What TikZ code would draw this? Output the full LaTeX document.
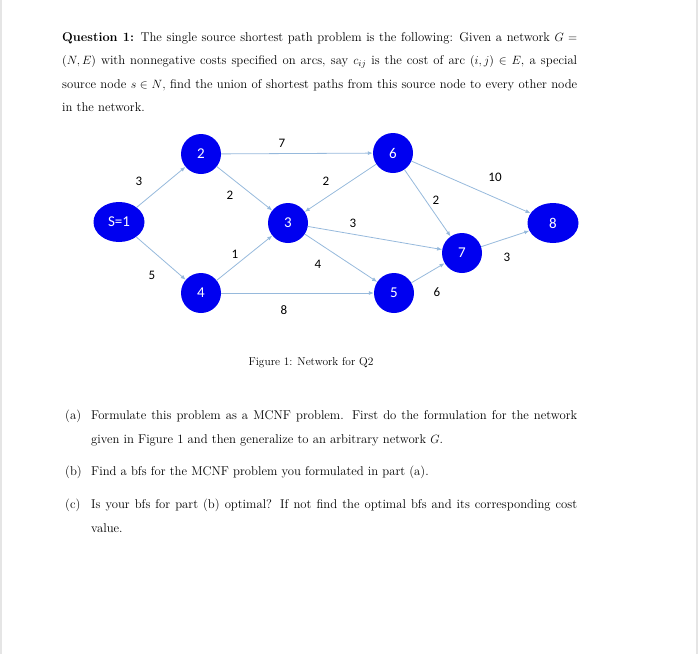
\documentclass[tikz,border=0pt]{standalone}
\usepackage{fontspec}
\newfontfamily\calibri{Carlito}
\usetikzlibrary{arrows.meta,shapes.geometric}
\definecolor{nodeblue}{RGB}{0,0,240}
\definecolor{arcblue}{RGB}{150,185,220}
\newcommand\linestrut{\rule{0pt}{10pt}}
\tikzset{
  vtx/.style={circle, fill=nodeblue, text=white, minimum size=40pt, inner sep=0pt, font=\calibri\fontsize{15}{15}\selectfont},
  vtxend/.style={ellipse, fill=nodeblue, text=white, minimum width=51pt, minimum height=40pt, inner sep=0pt, font=\calibri\fontsize{15}{15}\selectfont},
  arc/.style={draw=arcblue, line width=0.8pt, -{Latex[length=5pt,width=4pt]}},
  cost/.style={font=\calibri\fontsize{13}{13}\selectfont, inner sep=0pt},
  para/.style={anchor=north west, inner sep=0pt, align=justify, font=\fontsize{12.7}{23.3}\selectfont},
  itemlbl/.style={anchor=north west, inner sep=0pt, font=\fontsize{12.7}{23.3}\selectfont}
}
\begin{document}
\begin{tikzpicture}[x=1pt, y=-1pt]
  \useasboundingbox (0,0) rectangle (699,654);
  % page edges
  \draw[gray!20, line width=2pt] (1,0) -- (1,654);
  \draw[gray!20, line width=2pt] (697,0) -- (697,654);

  % question text
  \node[para, text width=515pt] (question) at (62,32.5) {\textbf{Question 1:} The single source shortest path problem is the following: Given a network $G =$\linebreak $(N, E)$ with nonnegative costs specified on arcs, say $c_{ij}$ is the cost of arc $(i, j) \in E$, a special\linebreak source node $s \in N$, find the union of shortest paths from this source node to every other node\linebreak in the network.};

  % network nodes
  \node[vtxend] (n1) at (119,222) {S=1};
  \node[vtx] (n2) at (201,154) {2};
  \node[vtx] (n3) at (288,223) {3};
  \node[vtx] (n4) at (201,293) {4};
  \node[vtx] (n5) at (394,293) {5};
  \node[vtx] (n6) at (393,153) {6};
  \node[vtx] (n7) at (462,253) {7};
  \node[vtxend] (n8) at (553,223) {8};

  % arcs
  \draw[arc] (n1) -- (n2);
  \draw[arc] (n1) -- (n4);
  \draw[arc] (n2) -- (n6);
  \draw[arc] (n2) -- (n3);
  \draw[arc] (n4) -- (n3);
  \draw[arc] (n6) -- (n3);
  \draw[arc] (n3) -- (n7);
  \draw[arc] (n3) -- (n5);
  \draw[arc] (n4) -- (n5);
  \draw[arc] (n6) -- (n7);
  \draw[arc] (n6) -- (n8);
  \draw[arc] (n5) -- (n7);
  \draw[arc] (n7) -- (n8);

  % arc costs
  \node[cost] (c12) at (139,181) {3};
  \node[cost] (c14) at (152,275) {5};
  \node[cost] (c26) at (282,143) {7};
  \node[cost] (c23) at (230,195) {2};
  \node[cost] (c43) at (235,254) {1};
  \node[cost] (c63) at (326,181) {2};
  \node[cost] (c37) at (353,223) {3};
  \node[cost] (c35) at (318,264) {4};
  \node[cost] (c45) at (284,310) {8};
  \node[cost] (c67) at (436,200) {2};
  \node[cost] (c68) at (495,177) {10};
  \node[cost] (c57) at (437,292) {6};
  \node[cost] (c78) at (507,257) {3};

  % caption
  \node[font=\fontsize{11.4}{14}\selectfont] (caption) at (311,363) {Figure 1: Network for Q2};

  % parts
  \node[itemlbl] (lbla) at (65,409.5) {\linestrut(a)};
  \node[para, text width=486pt] (parta) at (91,409.5) {\linestrut Formulate this problem as a MCNF problem. First do the formulation for the network\linebreak given in Figure 1 and then generalize to an arbitrary network $G$.};
  \node[itemlbl] (lblb) at (65,465.5) {\linestrut(b)};
  \node[para, text width=486pt] (partb) at (91,465.5) {\linestrut Find a bfs for the MCNF problem you formulated in part (a).};
  \node[itemlbl] (lblc) at (65,498.5) {\linestrut(c)};
  \node[para, text width=486pt] (partc) at (91,498.5) {\linestrut Is your bfs for part (b) optimal? If not find the optimal bfs and its corresponding cost\linebreak value.};
\end{tikzpicture}
\end{document}
